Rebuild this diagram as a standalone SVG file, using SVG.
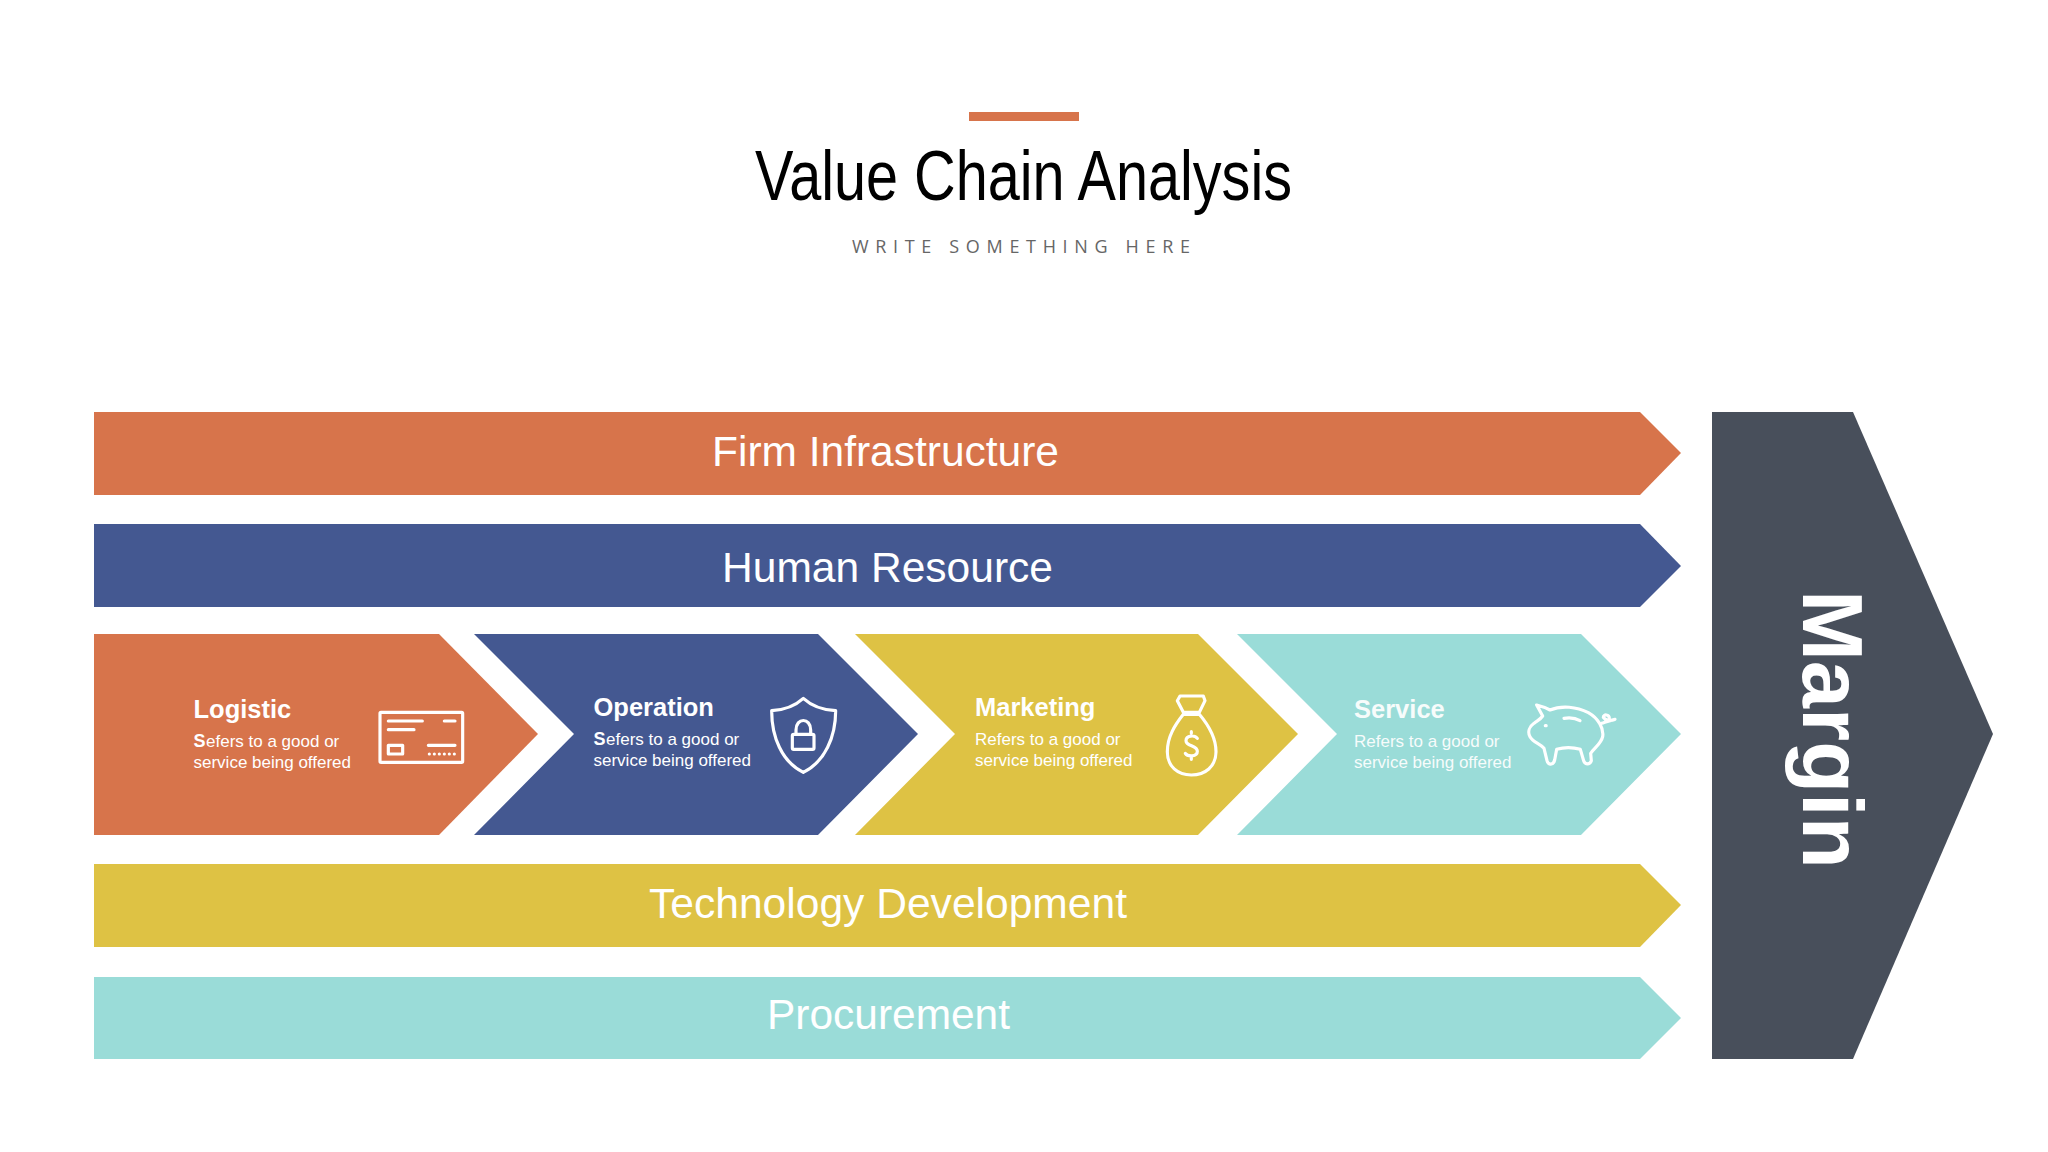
<svg xmlns="http://www.w3.org/2000/svg" width="2048" height="1152" viewBox="0 0 2048 1152">
<style>
.o{fill:#D7744B}.b{fill:#445891}.y{fill:#DEC244}.t{fill:#9ADCD8}.d{fill:#484F5B}
text{font-family:"Liberation Sans",Arial,sans-serif;fill:#fff}
.bar{font-size:42px;text-anchor:start}
.h{font-size:25.500px;font-weight:700}
.p{font-size:17px}
.s{font-weight:700;font-size:18px}
.ic{fill:none;stroke:#fff;stroke-width:9.500;stroke-linecap:round;stroke-linejoin:round}
</style>
<rect width="2048" height="1152" fill="#fff"/>
<g id="header">
<rect class="o" x="969" y="112" width="110" height="9"/>
<text x="755" y="200" font-size="70" style="fill:#000" textLength="537" lengthAdjust="spacingAndGlyphs">Value Chain Analysis</text>
<text x="852" y="253" font-size="18" style="fill:#666;font-family:'Open Sans','Noto Sans',sans-serif" textLength="338">WRITE SOMETHING HERE</text>
</g>
<g id="firm-infrastructure"><polygon class="o" points="94,412 1640,412 1681,453 1640,495 94,495"/><text class="bar" x="712" y="466" textLength="347" lengthAdjust="spacingAndGlyphs">Firm Infrastructure</text></g>
<g id="human-resource"><polygon class="b" points="94,524 1640,524 1681,566 1640,607 94,607"/><text class="bar" x="722" y="582" textLength="331" lengthAdjust="spacingAndGlyphs">Human Resource</text></g>
<g id="logistic"><polygon class="o" points="94,634 439,634 538,734 439,835 94,835"/>
<text class="h" x="193.500" y="718">Logistic</text>
<text class="p" x="193.500" y="747"><tspan class="s">S</tspan><tspan dx=".5">efers to a good or</tspan></text>
<text class="p" x="193.500" y="768">service being offered</text>
<g transform="translate(360 680) scale(.33333)" class="ic"><rect x="60" y="97" width="248" height="150" rx="3"/><path d="M85 123H187M85 149H162M253 123H285M205 196H285"/><rect x="85" y="196" width="43" height="26"/><path d="M208 222h0M223 222h0M238 222h0M253 222h0M268 222h0M283 222h0"/></g>
</g>
<g id="operation"><polygon class="b" points="474,634 818,634 918,734 818,835 474,835 574,734"/>
<text class="h" x="593.500" y="716">Operation</text>
<text class="p" x="593.500" y="745"><tspan class="s">S</tspan><tspan dx=".5">efers to a good or</tspan></text>
<text class="p" x="593.500" y="766">service being offered</text>
<g transform="translate(760 680) scale(.33333)" class="ic"><path d="M130 55C105 78 70 90 35 92C35 170 65 245 130 277C195 245 227 170 227 92C192 90 155 78 130 55Z"/><rect x="97" y="163" width="65" height="45" rx="4"/><path d="M108 163V150C108 112 152 112 152 150V163"/></g>
</g>
<g id="marketing"><polygon class="y" points="855,634 1198,634 1298,734 1198,835 855,835 955,734"/>
<text class="h" x="975" y="716">Marketing</text>
<text class="p" x="975" y="745">Refers to a good or</text>
<text class="p" x="975" y="766">service being offered</text>
<g transform="translate(1150 680) scale(.33333)" class="ic"><path d="M90 48H160L165 62L148 97H100L82 62Z"/><path d="M100 103H148C175 135 198 170 198 215C198 260 165 285 124 285C83 285 52 260 52 215C52 170 75 135 100 103Z"/><path d="M142 175C135 165 108 165 108 182C108 200 142 195 142 214C142 232 112 230 106 220M124 155V160M124 232V238"/></g>
</g>
<g id="service"><polygon class="t" points="1237,634 1581,634 1681,734 1581,835 1237,835 1337,734"/>
<text class="h" x="1354" y="718" opacity=".92">Service</text>
<text class="p" x="1354" y="747" opacity=".92">Refers to a good or</text>
<text class="p" x="1354" y="768" opacity=".92">service being offered</text>
<g transform="translate(1520 690) scale(.33333)" class="ic"><path d="M50 45C62 48 75 52 90 60C125 45 170 50 205 68C235 85 252 115 248 140C244 160 225 172 212 190L214 212C210 225 195 225 191 212L181 178C160 172 130 172 110 178L104 210C100 226 85 226 81 212L72 175C60 160 40 158 30 140C22 125 28 110 42 100C50 92 60 90 68 78Z"/><path d="M132 85C150 82 168 85 180 92"/><path d="M76 107h2.500"/><path d="M245 100C255 97 265 92 285 88C270 95 255 90 250 82C250 72 268 72 268 85"/></g>
</g>
<g id="technology-development"><polygon class="y" points="94,864 1640,864 1681,905 1640,947 94,947"/><text class="bar" x="649" y="918" textLength="478" lengthAdjust="spacingAndGlyphs">Technology Development</text></g>
<g id="procurement"><polygon class="t" points="94,977 1640,977 1681,1018 1640,1059 94,1059"/><text class="bar" x="767" y="1029" textLength="243" lengthAdjust="spacingAndGlyphs">Procurement</text></g>
<g id="margin"><polygon class="d" points="1712,412 1853,412 1993,734 1853,1059 1712,1059"/>
<text transform="translate(1803 590) rotate(90)" font-size="85" font-weight="700">Margin</text></g>
<g id="connectors"/>
</svg>
